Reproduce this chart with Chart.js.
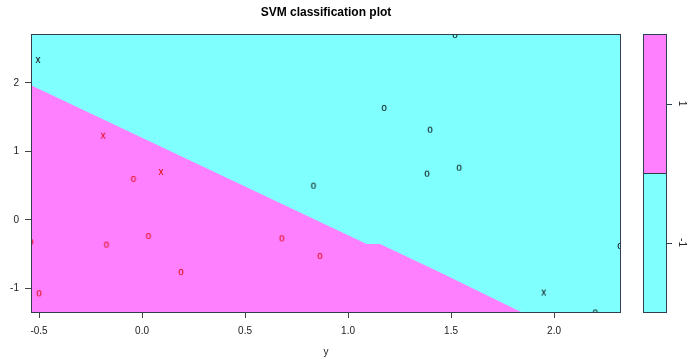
<!DOCTYPE html>
<html>
<head>
<meta charset="utf-8">
<script src="https://cdn.jsdelivr.net/npm/chart.js@4"></script>
<style>
  html, body { margin: 0; padding: 0; background: #fff; }
  #wrap { width: 700px; height: 359px; position: relative; }
</style>
</head>
<body>
<div id="wrap"><canvas id="svmChart"></canvas></div>
<script>
// axis ranges and ticks
const xRange = [-0.539, 2.325];
const yRange = [-1.343, 2.715];
const xTicks = [-0.5, 0.0, 0.5, 1.0, 1.5, 2.0];
const yTicks = [-1, 0, 1, 2];

// decision boundary (class 1 region lies below it)
const boundaryX = [-0.539, 0.5, 1.09, 1.155, 1.45, 1.84];
const boundaryY = [1.966, 0.49, -0.35, -0.35, -0.77, -1.343];

// class -1 points (black)
const negOX = [1.519, 1.175, 1.398, 1.539, 1.383, 0.832, 2.20, 2.32];
const negOY = [2.70, 1.635, 1.318, 0.763, 0.676, 0.50, -1.35, -0.38];
const negXX = [-0.505, 1.95];
const negXY = [2.336, -1.06];

// class 1 points (red)
const posOX = [-0.042, -0.54, -0.173, 0.031, 0.189, -0.50, 0.678, 0.863];
const posOY = [0.60, -0.32, -0.36, -0.234, -0.76, -1.07, -0.268, -0.525];
const posXX = [-0.189, 0.092];
const posXY = [1.23, 0.70];

const classLabels = ['1', '-1'];

const CYAN = '#80FFFF';
const MAGENTA = '#FF80FF';

const toPts = (xs, ys) => xs.map((x, i) => ({ x: x, y: ys[i] }));

// draw a text glyph into a small canvas to use as point style
function glyph(ch, color) {
    const c = document.createElement('canvas');
    c.width = 10; c.height = 10;
    const g = c.getContext('2d');
    g.fillStyle = color;
    g.font = '10px "Liberation Sans", Arial, sans-serif';
    g.textAlign = 'center';
    g.textBaseline = 'alphabetic';
    g.fillText(ch, 5, 7.6);
    return c;
}

// cyan background on plot area, frame, title, legend strip
const svmDecor = {
    id: 'svmDecor',
    beforeDatasetsDraw(chart) {
        const { ctx, chartArea: a } = chart;
        ctx.save();
        ctx.fillStyle = CYAN;
        ctx.fillRect(a.left, a.top, a.right - a.left, a.bottom - a.top);
        ctx.restore();
    },
    afterDraw(chart) {
        const { ctx, chartArea: a } = chart;
        ctx.save();
        ctx.strokeStyle = '#2f3f4f';
        ctx.lineWidth = 1;
        ctx.strokeRect(a.left + 0.5, a.top + 0.5, a.right - a.left - 1, a.bottom - a.top);

        // title
        ctx.fillStyle = '#000';
        ctx.font = 'bold 12px "Liberation Sans", Arial, sans-serif';
        ctx.textAlign = 'center';
        ctx.textBaseline = 'middle';
        ctx.fillText('SVM classification plot', (a.left + a.right) / 2, 13);

        // x axis title
        ctx.font = '10px "Liberation Sans", Arial, sans-serif';
        ctx.fillStyle = '#222';
        ctx.fillText('y', (a.left + a.right) / 2, 352);

        // legend strip
        const lx = 643, lw = 23, top = a.top, bot = a.bottom;
        const mid = (top + bot) / 2;
        ctx.fillStyle = MAGENTA;
        ctx.fillRect(lx, top, lw, mid - top);
        ctx.fillStyle = CYAN;
        ctx.fillRect(lx, mid, lw, bot - mid);
        ctx.strokeStyle = '#2f3f4f';
        ctx.strokeRect(lx + 0.5, top + 0.5, lw, bot - top);
        ctx.beginPath();
        ctx.moveTo(lx, mid + 0.5); ctx.lineTo(lx + lw, mid + 0.5);
        ctx.stroke();

        const centers = [(top + mid) / 2, (mid + bot) / 2];
        ctx.fillStyle = '#222';
        centers.forEach((cy, i) => {
            ctx.beginPath();
            ctx.moveTo(lx + lw, Math.round(cy) + 0.5);
            ctx.lineTo(lx + lw + 6, Math.round(cy) + 0.5);
            ctx.stroke();
            ctx.save();
            ctx.translate(lx + lw + 16, cy);
            ctx.rotate(Math.PI / 2);
            ctx.textAlign = 'center';
            ctx.textBaseline = 'middle';
            ctx.fillText(classLabels[i], 0, 0);
            ctx.restore();
        });
        ctx.restore();
    }
};

const ctx = document.getElementById('svmChart').getContext('2d');
new Chart(ctx, {
    type: 'scatter',
    data: {
        datasets: [
            {
                type: 'line',
                data: toPts(boundaryX, boundaryY),
                borderWidth: 0,
                borderColor: MAGENTA,
                backgroundColor: MAGENTA,
                fill: 'start',
                pointRadius: 0,
                tension: 0,
                order: 10
            },
            { data: toPts(negOX, negOY), pointStyle: glyph('o', '#000'), order: 1 },
            { data: toPts(negXX, negXY), pointStyle: glyph('x', '#000'), order: 1 },
            { data: toPts(posOX, posOY), pointStyle: glyph('o', '#e00000'), order: 1 },
            { data: toPts(posXX, posXY), pointStyle: glyph('x', '#e00000'), order: 1 }
        ]
    },
    options: {
        responsive: true,
        maintainAspectRatio: false,
        animation: false,
        layout: { padding: { top: 34, right: 79, left: 0, bottom: 0 } },
        plugins: {
            legend: { display: false },
            tooltip: { enabled: false }
        },
        scales: {
            x: {
                type: 'linear',
                min: xRange[0],
                max: xRange[1],
                afterBuildTicks: (s) => { s.ticks = xTicks.map(v => ({ value: v })); },
                afterFit: (s) => { s.height = 47; },
                grid: { drawOnChartArea: false, drawTicks: true, tickLength: 6, color: '#444' },
                border: { display: false },
                ticks: {
                    color: '#222',
                    padding: 7,
                    maxRotation: 0,
                    font: { family: '"Liberation Sans", Arial, sans-serif', size: 10 },
                    callback: (v) => v.toFixed(1)
                }
            },
            y: {
                type: 'linear',
                min: yRange[0],
                max: yRange[1],
                afterBuildTicks: (s) => { s.ticks = yTicks.map(v => ({ value: v })); },
                afterFit: (s) => { s.width = 31; },
                grid: { drawOnChartArea: false, drawTicks: true, tickLength: 6, color: '#444' },
                border: { display: false },
                ticks: {
                    color: '#222',
                    padding: 6,
                    font: { family: '"Liberation Sans", Arial, sans-serif', size: 10 },
                    callback: (v) => String(v)
                }
            }
        },
        elements: { point: { radius: 4 } }
    },
    plugins: [svmDecor]
});
</script>
</body>
</html>
